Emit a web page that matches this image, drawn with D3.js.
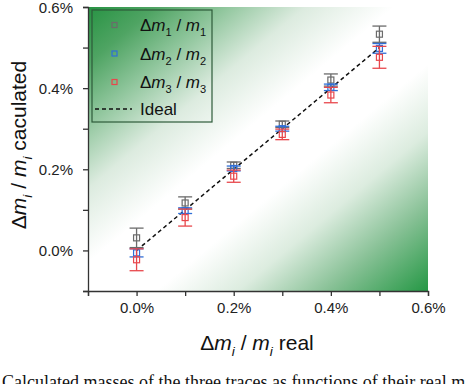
<!DOCTYPE html>
<html>
<head>
<style>
  body { margin: 0; background: #fff; }
  svg text { font-family: "Liberation Sans", Arial, sans-serif; }
</style>
</head>
<body>
<svg width="474" height="384"></svg>
<script src="https://d3js.org/d3.v7.min.js"></script>
<script>
// real mass change (%)
var realVals = [0.0, 0.1, 0.2, 0.3, 0.4, 0.5];
// calculated values (%) and error bars for each trace
var m1Vals = [0.031, 0.117, 0.210, 0.311, 0.420, 0.533];
var m1Err  = [0.024, 0.015, 0.008, 0.008, 0.015, 0.020];
var m2Vals = [-0.006, 0.098, 0.202, 0.300, 0.402, 0.498];
var m2Err  = [0.010, 0.007, 0.006, 0.006, 0.008, 0.012];
var m3Vals = [-0.023, 0.081, 0.183, 0.286, 0.383, 0.476];
var m3Err  = [0.027, 0.021, 0.015, 0.013, 0.019, 0.027];
var idealLine = [0.0, 0.5];
var tickVals = [-0.1, 0.0, 0.1, 0.2, 0.3, 0.4, 0.5, 0.6];
var labelVals = [0.0, 0.2, 0.4, 0.6];

var svg = d3.select("svg");
var pLeft = 88, pRight = 428, pTop = 7, pBottom = 291;

var x = d3.scaleLinear().domain([-0.1, 0.6]).range([pLeft, pRight]);
var y = d3.scaleLinear().domain([-0.1, 0.6]).range([pBottom, pTop]);

// background gradient
var defs = svg.append("defs");
var grad = defs.append("linearGradient").attr("id", "bg")
    .attr("x1", 0).attr("y1", 0).attr("x2", 1).attr("y2", 1);
[[0, "#279343"], [0.1, "#4fa463"], [0.2, "#8ec59b"], [0.32, "#dcebdf"], [0.45, "#ffffff"],
 [0.6, "#ffffff"], [0.72, "#dcecdf"], [0.85, "#88c196"], [1, "#259845"]]
  .forEach(function (s) {
    grad.append("stop").attr("offset", s[0]).attr("stop-color", s[1]);
  });

svg.append("rect")
    .attr("x", pLeft).attr("y", pTop)
    .attr("width", pRight - pLeft).attr("height", pBottom - pTop)
    .attr("fill", "url(#bg)");

var fmt = function (d) {
    return labelVals.some(function (v) { return Math.abs(v - d) < 1e-9; }) ? d3.format(".1f")(d) + "%" : "";
};

var xAxis = svg.append("g")
    .attr("transform", "translate(0," + pBottom + ")")
    .call(d3.axisBottom(x).tickValues(tickVals).tickFormat(fmt).tickSizeOuter(0).tickSize(5).tickPadding(6));
var yAxis = svg.append("g")
    .attr("transform", "translate(" + pLeft + ",0)")
    .call(d3.axisLeft(y).tickValues(tickVals).tickFormat(fmt).tickSizeOuter(0).tickSize(5).tickPadding(10));

[xAxis, yAxis].forEach(function (a) {
    a.attr("font-size", 15).attr("font-family", "Liberation Sans, Arial, sans-serif");
    a.selectAll("text").attr("fill", "#222");
    a.select(".domain").attr("stroke", "#333").attr("stroke-width", 1.3);
    a.selectAll(".tick line").attr("stroke", "#333").attr("stroke-width", 1.3);
});
xAxis.selectAll("text").attr("dy", "0.75em");
yAxis.selectAll("text").attr("dy", "0.35em");

// ideal dashed line
svg.append("line")
    .attr("x1", x(idealLine[0])).attr("y1", y(idealLine[0]))
    .attr("x2", x(idealLine[1])).attr("y2", y(idealLine[1]))
    .attr("stroke", "#111").attr("stroke-width", 1.5)
    .attr("stroke-dasharray", "4,3");

var series = [
    { vals: m1Vals, err: m1Err, color: "#6b6b6b", idx: "1" },
    { vals: m2Vals, err: m2Err, color: "#2f6fd8", idx: "2" },
    { vals: m3Vals, err: m3Err, color: "#e8474c", idx: "3" }
];

series.forEach(function (s) {
    var g = svg.append("g");
    realVals.forEach(function (r, i) {
        var cx = x(r), lo = y(s.vals[i] - s.err[i]), hi = y(s.vals[i] + s.err[i]);
        g.append("line").attr("x1", cx).attr("x2", cx).attr("y1", lo).attr("y2", hi)
            .attr("stroke", s.color).attr("stroke-width", 1.3);
        [lo, hi].forEach(function (yy) {
            g.append("line").attr("x1", cx - 7).attr("x2", cx + 7).attr("y1", yy).attr("y2", yy)
                .attr("stroke", s.color).attr("stroke-width", 1.3);
        });
        g.append("rect").attr("x", cx - 3).attr("y", y(s.vals[i]) - 3)
            .attr("width", 6).attr("height", 6)
            .attr("fill", "none").attr("stroke", s.color).attr("stroke-width", 1.2);
    });
});

// legend
var lg = svg.append("g");
lg.append("rect").attr("x", 92).attr("y", 10).attr("width", 120).attr("height", 112)
    .attr("fill", "none").attr("stroke", "#2d5a3a").attr("stroke-width", 1.2);

function massLabel(t, idx, size) {
    t.append("tspan").text("\u0394");
    t.append("tspan").attr("font-style", "italic").text("m");
    t.append("tspan").attr("font-size", size * 0.65).attr("dy", size * 0.3).text(idx);
    t.append("tspan").attr("dy", -size * 0.3).text(" / ");
    t.append("tspan").attr("font-style", "italic").text("m");
    t.append("tspan").attr("font-size", size * 0.65).attr("dy", size * 0.3).text(idx);
}

series.forEach(function (s, i) {
    var yy = 25 + i * 28.5;
    lg.append("rect").attr("x", 112).attr("y", yy - 2.5).attr("width", 5).attr("height", 5)
        .attr("fill", "none").attr("stroke", s.color).attr("stroke-width", 1.2);
    var t = lg.append("text").attr("x", 140).attr("y", yy + 6).attr("font-size", 17).attr("fill", "#111");
    massLabel(t, s.idx, 17);
});
lg.append("line").attr("x1", 95).attr("x2", 132).attr("y1", 109).attr("y2", 109)
    .attr("stroke", "#111").attr("stroke-width", 1.5).attr("stroke-dasharray", "4,3");
lg.append("text").attr("x", 140).attr("y", 115).attr("font-size", 17).attr("fill", "#111").text("Ideal");

// axis titles
function titleText(t, tail, size) {
    t.append("tspan").text("\u0394");
    t.append("tspan").attr("font-style", "italic").text("m");
    t.append("tspan").attr("font-style", "italic").attr("font-size", size * 0.65).attr("dy", size * 0.3).text("i");
    t.append("tspan").attr("dy", -size * 0.3).text(" / ");
    t.append("tspan").attr("font-style", "italic").text("m");
    t.append("tspan").attr("font-style", "italic").attr("font-size", size * 0.65).attr("dy", size * 0.3).text("i");
    t.append("tspan").attr("dy", -size * 0.3).text(" " + tail);
}
var xt = svg.append("text").attr("x", 257).attr("y", 350).attr("text-anchor", "middle")
    .attr("font-size", 21).attr("fill", "#111");
titleText(xt, "real", 21);
var yt = svg.append("text").attr("transform", "translate(26,145) rotate(-90)")
    .attr("text-anchor", "middle").attr("font-size", 21).attr("fill", "#111");
titleText(yt, "caculated", 21);

// caption (cut off at the bottom of the image)
svg.append("text").attr("x", 2).attr("y", 388)
    .style("font-family", "Liberation Serif, Times New Roman, serif")
    .attr("font-size", 18).attr("fill", "#111")
    .text("Calculated masses of the three traces as functions of their real m");
</script>
</body>
</html>
